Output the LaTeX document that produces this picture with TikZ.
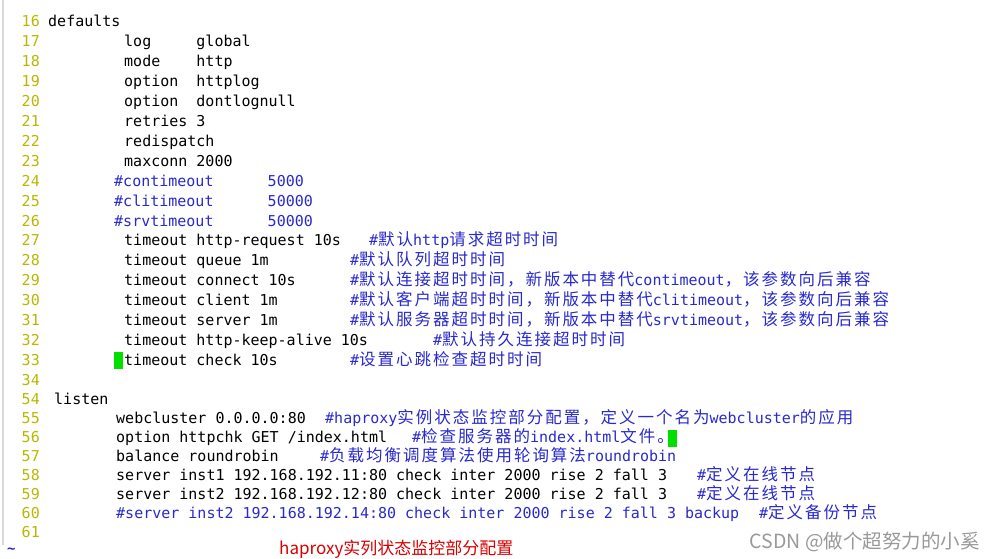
\documentclass[tikz,border=0pt]{standalone}
\usepackage{fontspec}
\setmonofont{DejaVu Sans Mono}
\newfontfamily\cjk[Scale=1.1,LetterSpace=12]{Noto Sans CJK SC}
\newfontfamily\cjkplain{Noto Sans CJK SC}
\newcommand{\C}[1]{{\cjk #1}}
\definecolor{lnum}{HTML}{B8B800}
\definecolor{cmt}{HTML}{2A2ACC}
\definecolor{curs}{HTML}{00E000}
\tikzset{
 num/.style={anchor=base east,inner sep=0pt,text=lnum,font=\fontsize{15}{16}\ttfamily},
 code/.style={anchor=base west,inner sep=0pt,text=black,font=\fontsize{15}{16}\ttfamily},
 com/.style={code,text=cmt},
 cursor/.style={fill=curs,draw=none}
}
\begin{document}
\begin{tikzpicture}[x=1pt,y=-1pt]
\useasboundingbox[fill=white] (0,0) rectangle (995,559);
\draw[black!15,line width=1.5pt] (3,0) -- (3,545);
\begin{scope}[yshift=-2pt]
% defaults block
\node[num] (n16) at (40,25) {16}; \node[code] (t16) at (48,25) {defaults};
\node[num] (n17) at (40,44.9) {17}; \node[code] (t17) at (124,44.9) {log\ \ \ \ \ global};
\node[num] (n18) at (40,64.8) {18}; \node[code] (t18) at (124,64.8) {mode\ \ \ \ http};
\node[num] (n19) at (40,84.7) {19}; \node[code] (t19) at (124,84.7) {option\ \ httplog};
\node[num] (n20) at (40,104.6) {20}; \node[code] (t20) at (124,104.6) {option\ \ dontlognull};
\node[num] (n21) at (40,124.5) {21}; \node[code] (t21) at (124,124.5) {retries 3};
\node[num] (n22) at (40,144.4) {22}; \node[code] (t22) at (124,144.4) {redispatch};
\node[num] (n23) at (40,164.3) {23}; \node[code] (t23) at (124,164.3) {maxconn 2000};
\node[num] (n24) at (40,184.2) {24}; \node[com] (t24) at (114,184.2) {\#contimeout\ \ \ \ \ \ 5000};
\node[num] (n25) at (40,204.1) {25}; \node[com] (t25) at (114,204.1) {\#clitimeout\ \ \ \ \ \ 50000};
\node[num] (n26) at (40,224.0) {26}; \node[com] (t26) at (114,224.0) {\#srvtimeout\ \ \ \ \ \ 50000};
\node[num] (n27) at (40,243.9) {27}; \node[code] (t27) at (124,243.9) {timeout http-request 10s};
 \node[com] (c27) at (369,243.9) {\#\C{默认}http\C{请求超时时间}};
\node[num] (n28) at (40,263.8) {28}; \node[code] (t28) at (124,263.8) {timeout queue 1m};
 \node[com] (c28) at (350,263.8) {\#\C{默认队列超时时间}};
\node[num] (n29) at (40,283.7) {29}; \node[code] (t29) at (124,283.7) {timeout connect 10s};
 \node[com] (c29) at (350,283.7) {\#\C{默认连接超时时间，新版本中替代}contimeout\C{，该参数向后兼容}};
\node[num] (n30) at (40,303.6) {30}; \node[code] (t30) at (124,303.6) {timeout client 1m};
 \node[com] (c30) at (350,303.6) {\#\C{默认客户端超时时间，新版本中替代}clitimeout\C{，该参数向后兼容}};
\node[num] (n31) at (40,323.5) {31}; \node[code] (t31) at (124,323.5) {timeout server 1m};
 \node[com] (c31) at (350,323.5) {\#\C{默认服务器超时时间，新版本中替代}srvtimeout\C{，该参数向后兼容}};
\node[num] (n32) at (40,343.4) {32}; \node[code] (t32) at (124,343.4) {timeout http-keep-alive 10s};
 \node[com] (c32) at (433,343.4) {\#\C{默认持久连接超时时间}};
\node[num] (n33) at (40,363.3) {33};
\node[cursor] (cur1) at (118.5,358) [minimum width=9pt,minimum height=17pt,inner sep=0pt] {};
\node[code] (t33) at (124,363.3) {timeout check 10s};
 \node[com] (c33) at (350,363.3) {\#\C{设置心跳检查超时时间}};
\node[num] (n34) at (40,383.2) {34};
% listen block
\node[num] (n54) at (40,402) {54}; \node[code] (t54) at (54,402) {listen};
\node[num] (n55) at (40,421) {55}; \node[code] (t55) at (116,421) {webcluster 0.0.0.0:80};
 \node[com] (c55) at (325,421) {\#haproxy\C{实例状态监控部分配置，定义一个名为}webcluster\C{的应用}};
\node[num] (n56) at (40,440) {56}; \node[code] (t56) at (116,440) {option httpchk GET /index.html};
 \node[com] (c56) at (412,440) {\#\C{检查服务器的}index.html\C{文件。}};
\node[cursor] (cur2) at (672.5,436) [minimum width=9pt,minimum height=17pt,inner sep=0pt] {};
\node[num] (n57) at (40,459) {57}; \node[code] (t57) at (116,459) {balance roundrobin};
 \node[com] (c57) at (320,459) {\#\C{负载均衡调度算法使用轮询算法}roundrobin};
\node[num] (n58) at (40,478) {58}; \node[code] (t58) at (116,478) {server inst1 192.168.192.11:80 check inter 2000 rise 2 fall 3};
 \node[com] (c58) at (697,478) {\#\C{定义在线节点}};
\node[num] (n59) at (40,497) {59}; \node[code] (t59) at (116,497) {server inst2 192.168.192.12:80 check inter 2000 rise 2 fall 3};
 \node[com] (c59) at (697,497) {\#\C{定义在线节点}};
\node[num] (n60) at (40,516) {60}; \node[com] (t60) at (116,516) {\#server inst2 192.168.192.14:80 check inter 2000 rise 2 fall 3 backup};
 \node[com] (c60) at (759,516) {\#\C{定义备份节点}};
\node[num] (n61) at (40,535) {61};
\end{scope}
\node[com,font=\fontsize{14}{14}\ttfamily\bfseries] (tilde) at (7,553) {\char`\~};
\node[anchor=base west,inner sep=0pt,text=red!85!black,font=\fontsize{17}{17}\cjkplain] (cap) at (279,554) {haproxy实列状态监控部分配置};
\node[anchor=base east,inner sep=0pt,text=black!40,font=\fontsize{19.5}{20}\cjkplain] (wm) at (980,548) {CSDN @做个超努力的小奚};
\end{tikzpicture}
\end{document}
